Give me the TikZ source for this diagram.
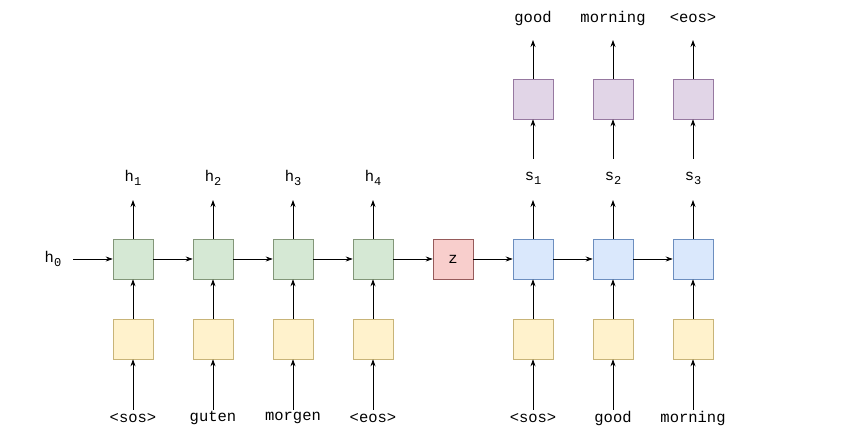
\documentclass[tikz,border=0pt]{standalone}
\usepackage{fontspec}
\setmainfont{Liberation Mono}
\usetikzlibrary{arrows.meta}
\begin{document}
\begin{tikzpicture}[x=1pt,y=-1pt,
  box/.style={draw,minimum width=40pt,minimum height=40pt,inner sep=0pt,line width=0.6pt},
  enc/.style={box,fill={rgb,255:red,213;green,232;blue,212},draw={rgb,255:red,130;green,150;blue,120}},
  emb/.style={box,fill={rgb,255:red,255;green,242;blue,204},draw={rgb,255:red,200;green,180;blue,120}},
  dec/.style={box,fill={rgb,255:red,218;green,232;blue,252},draw={rgb,255:red,108;green,142;blue,191}},
  ctx/.style={box,fill={rgb,255:red,248;green,206;blue,204},draw={rgb,255:red,150;green,90;blue,90}},
  outbox/.style={box,fill={rgb,255:red,225;green,213;blue,231},draw={rgb,255:red,150;green,120;blue,160}},
  lab/.style={font=\fontsize{15.5}{18}\selectfont,inner sep=1pt},
  arr/.style={-{Stealth[length=7pt,width=5pt]},line width=0.7pt}]
\useasboundingbox (0,0) rectangle (841,435);
\newcommand{\sub}[2]{#1\raisebox{-4pt}{\fontsize{12}{14}\selectfont #2}}
% encoder
\foreach \i/\x/\w in {1/133/<sos>,2/213/guten,3/293/morgen,4/373/<eos>}{
  \node[enc] (e\i) at (\x,259) {};
  \node[emb] (m\i) at (\x,339) {};
  \node[lab] (t\i) at (\x,418) {\w};
  \node[lab] (h\i) at (\x,178) {\sub{h}{\i}};
  \coordinate (tt\i) at (\x,410);
  \coordinate (hh\i) at (\x,200);
  \draw[arr] (tt\i) -- (m\i);
  \draw[arr] (m\i) -- (e\i);
  \draw[arr] (e\i) -- (hh\i);
}
\node[ctx] (z) at (453,259) {\fontsize{15.5}{18}\selectfont z};
\foreach \i/\x/\w/\o in {1/533/<sos>/good,2/613/good/morning,3/693/morning/<eos>}{
  \node[dec] (d\i) at (\x,259) {};
  \node[emb] (n\i) at (\x,339) {};
  \node[outbox] (o\i) at (\x,99) {};
  \node[lab] (u\i) at (\x,418) {\w};
  \node[lab] (s\i) at (\x,178) {\sub{s}{\i}};
  \node[lab] (w\i) at (\x,18) {\o};
  \coordinate (uu\i) at (\x,410);
  \coordinate (ss\i) at (\x,200);
  \coordinate (sb\i) at (\x,159);
  \coordinate (ww\i) at (\x,40);
  \draw[arr] (uu\i) -- (n\i);
  \draw[arr] (n\i) -- (d\i);
  \draw[arr] (d\i) -- (ss\i);
  \draw[arr] (sb\i) -- (o\i);
  \draw[arr] (o\i) -- (ww\i);
}
\node[lab] (h0) at (53,259) {\sub{h}{0}};
\coordinate (h0r) at (73,259);
\draw[arr] (h0r) -- (e1);
\draw[arr] (e1) -- (e2);
\draw[arr] (e2) -- (e3);
\draw[arr] (e3) -- (e4);
\draw[arr] (e4) -- (z);
\draw[arr] (z) -- (d1);
\draw[arr] (d1) -- (d2);
\draw[arr] (d2) -- (d3);
\end{tikzpicture}
\end{document}
